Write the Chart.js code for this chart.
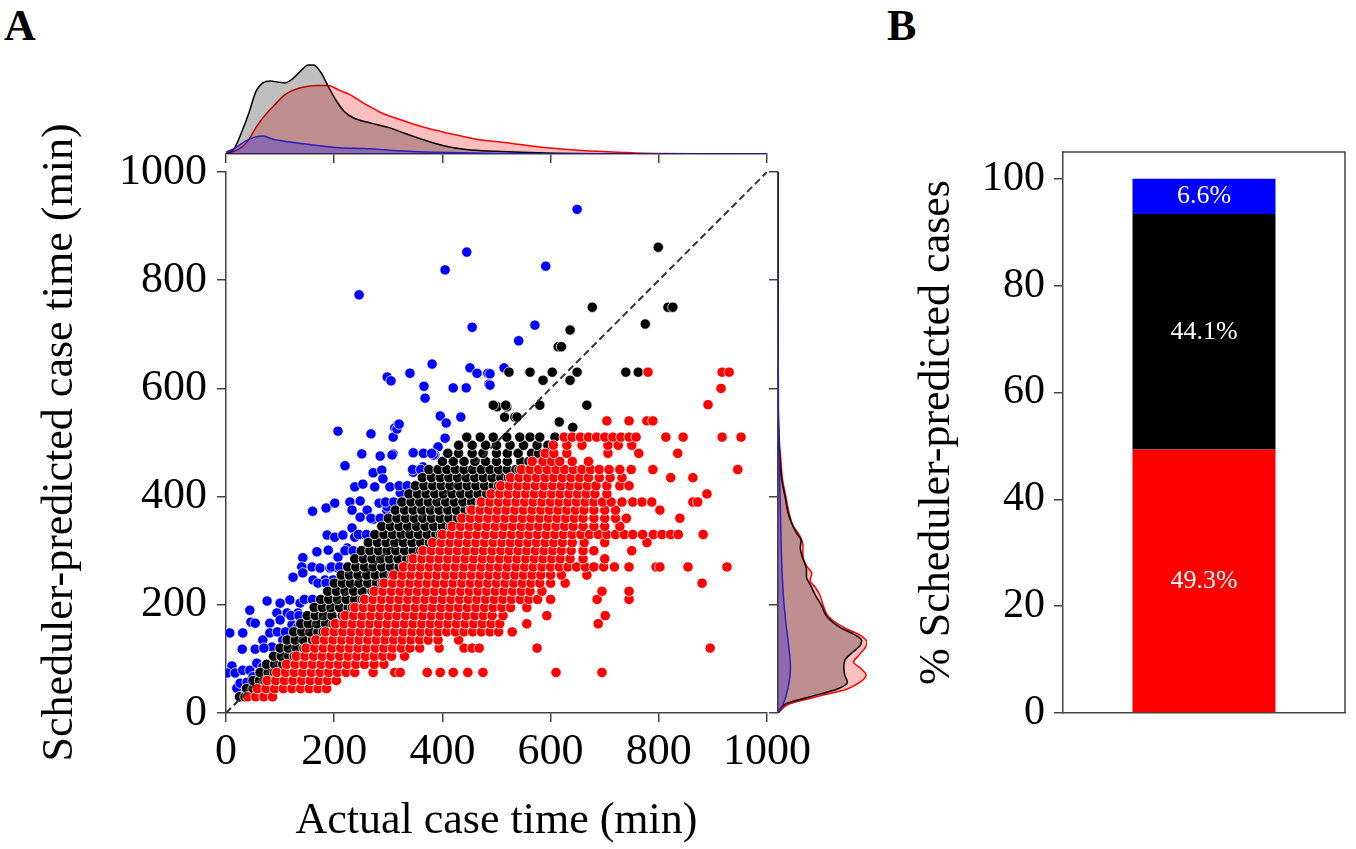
<!DOCTYPE html>
<html>
<head>
<meta charset="utf-8">
<title>Scheduler-predicted vs actual case time</title>
<script src="https://cdn.jsdelivr.net/npm/chart.js@4.4.1/dist/chart.umd.min.js"></script>
<style>
  body { margin: 0; background: #fff; width: 1356px; height: 849px; position: relative; overflow: hidden; font-family: 'Liberation Serif', 'Times New Roman', serif; }
  canvas { position: absolute; }
  .panel { position: absolute; font-weight: bold; font-size: 44px; line-height: 1; }
</style>
</head>
<body>
<div class="panel" style="left:4px;top:4px">A</div>
<div class="panel" style="left:887px;top:4px">B</div>
<canvas id="scatterChart" width="830" height="749" style="left:0;top:100px"></canvas>
<canvas id="topKde" width="830" height="134" style="left:0;top:36px"></canvas>
<canvas id="rightKde" width="130" height="620" style="left:750px;top:146px"></canvas>
<canvas id="barChart" width="476" height="749" style="left:880px;top:100px"></canvas>
<script>
// ---- data ----
// red = under-predicted, black = close, blue = over-predicted
// rows: [scheduler-predicted time, [actual times...]]
const redRows = [
  [30, [40, 55, 70, 86]],
  [45, [58, 74, 90, 106, 122, 138, 154, 170, 186]],
  [60, [76, 92, 108, 124, 140, 156, 172, 188, 204]],
  [75, [94, 110, 126, 142, 158, 174, 190, 206, 222, 238, 272, 312, 322, 372, 396, 420, 447, 475, 610, 695]],
  [90, [112, 128, 144, 160, 176, 192, 208, 224, 240, 256, 274, 292]],
  [105, [130, 146, 162, 178, 194, 210, 226, 242, 258, 274, 290, 306, 330]],
  [120, [148, 164, 180, 196, 212, 228, 244, 260, 276, 292, 308, 324, 340, 358, 394, 440, 455, 468, 575, 895]],
  [135, [166, 182, 198, 214, 230, 246, 262, 278, 294, 310, 326, 342, 358, 374, 392, 430]],
  [150, [184, 200, 216, 232, 248, 264, 280, 296, 312, 328, 344, 360, 376, 392, 408, 424, 440, 456, 472, 488, 504, 529]],
  [165, [202, 218, 234, 250, 266, 282, 298, 314, 330, 346, 362, 378, 394, 410, 426, 442, 458, 474, 490, 506, 556, 688]],
  [180, [220, 236, 252, 268, 284, 300, 316, 332, 348, 364, 380, 396, 412, 428, 444, 460, 476, 492, 512, 593, 701]],
  [195, [238, 254, 270, 286, 302, 318, 334, 350, 366, 382, 398, 414, 430, 446, 462, 478, 494, 510, 526, 556]],
  [210, [256, 272, 288, 304, 320, 336, 352, 368, 384, 400, 416, 432, 448, 464, 480, 496, 512, 528, 544, 560, 576, 600, 686, 745]],
  [225, [274, 290, 306, 322, 338, 354, 370, 386, 402, 418, 434, 450, 466, 482, 498, 514, 530, 546, 562, 584, 695, 745]],
  [240, [292, 308, 324, 340, 356, 372, 388, 404, 420, 436, 452, 468, 484, 500, 516, 532, 548, 564, 580, 600, 627, 880]],
  [255, [310, 326, 342, 358, 374, 390, 406, 422, 438, 454, 470, 486, 502, 518, 534, 550, 566, 582, 600, 620, 667]],
  [270, [328, 344, 360, 376, 392, 408, 424, 440, 456, 472, 488, 504, 520, 536, 552, 568, 584, 600, 616, 632, 648, 664, 680, 698, 718, 745, 795, 802, 854, 926]],
  [285, [346, 362, 378, 394, 410, 426, 442, 458, 474, 490, 506, 522, 538, 554, 570, 586, 602, 618, 636, 660, 700]],
  [300, [364, 380, 396, 412, 428, 444, 460, 476, 492, 508, 524, 540, 556, 572, 588, 604, 620, 638, 660, 680, 750]],
  [315, [382, 398, 414, 430, 446, 462, 478, 494, 510, 526, 542, 558, 574, 590, 606, 622, 640, 662, 700, 778]],
  [330, [400, 416, 432, 448, 464, 480, 496, 512, 528, 544, 560, 576, 592, 608, 624, 640, 656, 672, 688, 704, 720, 736, 752, 770, 790, 806, 822, 836, 882]],
  [345, [418, 434, 450, 466, 482, 498, 514, 530, 546, 562, 578, 594, 610, 626, 642, 660, 680, 700, 728]],
  [360, [436, 452, 468, 484, 500, 516, 532, 548, 564, 580, 596, 612, 628, 644, 660, 680, 700, 720, 740, 839]],
  [375, [454, 470, 486, 502, 518, 534, 550, 566, 582, 598, 614, 630, 646, 662, 680, 700, 720, 802]],
  [390, [472, 488, 504, 520, 536, 552, 568, 584, 600, 616, 632, 648, 664, 680, 696, 712, 732, 752, 769, 787, 863, 872]],
  [405, [490, 506, 522, 538, 554, 570, 586, 602, 618, 634, 650, 666, 682, 704, 889]],
  [420, [508, 524, 540, 556, 572, 588, 604, 620, 636, 652, 668, 684, 704, 728, 745]],
  [435, [526, 542, 558, 574, 590, 606, 622, 638, 654, 670, 690, 710, 732, 822, 863]],
  [450, [546, 562, 578, 594, 610, 626, 642, 658, 674, 690, 708, 728, 749, 789, 946]],
  [465, [566, 586, 602, 617, 640, 670]],
  [480, [590, 606, 630, 706, 763, 835]],
  [495, [605, 630, 658, 706, 725, 750]],
  [510, [625, 640, 655, 670, 685, 700, 715, 730, 745, 758, 813, 845, 917, 952]],
  [540, [704, 745, 778, 789]],
  [570, [891]],
  [600, [915]],
  [630, [780, 917, 930]]
];

const blackRows = [
  [30, [25, 35]],
  [45, [38, 50]],
  [60, [50, 62, 72]],
  [75, [63, 78, 90]],
  [90, [75, 90, 105]],
  [105, [88, 102, 116, 126]],
  [120, [100, 115, 130, 144]],
  [135, [113, 128, 143, 160]],
  [150, [125, 140, 155, 170, 180]],
  [165, [138, 152, 168, 184, 198]],
  [180, [150, 165, 180, 196, 215]],
  [195, [163, 178, 194, 210, 226, 234]],
  [210, [175, 190, 206, 222, 238, 252]],
  [225, [188, 204, 220, 236, 252, 270]],
  [240, [200, 215, 230, 246, 262, 278, 289]],
  [255, [213, 228, 244, 260, 276, 292, 307]],
  [270, [225, 240, 256, 272, 288, 304, 320]],
  [285, [238, 254, 270, 286, 302, 318, 334, 343]],
  [300, [250, 266, 282, 298, 314, 330, 346, 360]],
  [315, [263, 280, 296, 312, 328, 344, 360, 376]],
  [330, [275, 292, 308, 324, 340, 356, 372, 388, 397]],
  [345, [288, 304, 320, 336, 352, 368, 384, 400, 415]],
  [360, [300, 316, 332, 348, 364, 380, 396, 412, 428]],
  [375, [313, 330, 346, 362, 378, 394, 410, 426, 442, 452]],
  [390, [325, 342, 358, 374, 390, 406, 422, 438, 454, 470]],
  [405, [338, 354, 370, 386, 402, 418, 434, 450, 466, 482]],
  [420, [350, 366, 382, 398, 414, 430, 446, 462, 478, 494, 504]],
  [435, [363, 380, 396, 412, 428, 444, 460, 476, 492, 508, 522]],
  [450, [375, 392, 408, 424, 440, 456, 472, 488, 504, 520, 536, 542]],
  [465, [400, 420, 440, 460, 480, 500, 520, 545, 560]],
  [480, [410, 430, 455, 475, 500, 520, 540, 565, 578]],
  [495, [430, 455, 480, 500, 525, 550, 575, 595]],
  [510, [445, 470, 494, 519, 543, 562, 580, 608]],
  [528, [641]],
  [538, [616]],
  [547, [515, 534, 538]],
  [566, [501, 519]],
  [569, [494, 517, 580, 667]],
  [615, [586, 636]],
  [630, [523, 562, 603, 649, 739, 762]],
  [677, [614, 620]],
  [708, [636]],
  [719, [775]],
  [750, [677, 817, 826]],
  [861, [799]]
];

// blue points as [actual, predicted]
const bluePts = [
  [445, 852], [405, 819], [246, 773], [455, 713], [649, 931], [591, 826], [571, 717], [541, 688],
  [381, 645], [340, 628], [298, 621], [305, 614], [366, 604], [368, 582], [420, 601], [444, 601],
  [451, 638], [464, 628], [484, 628], [486, 608], [514, 638], [488, 627], [488, 606],
  [396, 549], [407, 536], [434, 547], [318, 534], [312, 527], [309, 510], [207, 521], [268, 516],
  [316, 525], [320, 534], [405, 508], [392, 492], [386, 477], [346, 481],
  [251, 479], [285, 475], [309, 479], [383, 477], [307, 477], [220, 457], [272, 444], [288, 449],
  [346, 445], [364, 455], [238, 418], [253, 423], [275, 418], [290, 433], [303, 418], [334, 418],
  [344, 407], [327, 401], [322, 407], [160, 373], [185, 379], [201, 388], [229, 390], [248, 392],
  [233, 375], [261, 375], [283, 388], [297, 375], [298, 381], [316, 388], [248, 362], [272, 358],
  [187, 329], [201, 325], [216, 329], [233, 342], [238, 325], [257, 329],
  [168, 298], [189, 301], [207, 288], [224, 305], [238, 296], [257, 301],
  [142, 287], [159, 270], [140, 270], [174, 268], [192, 268], [207, 268],
  [124, 251], [142, 259], [161, 246], [183, 246], [198, 246],
  [76, 207], [118, 209], [137, 203], [100, 203], [113, 185], [133, 185], [94, 185],
  [44, 190], [46, 168], [54, 166], [81, 166], [100, 172], [122, 163], [133, 159],
  [7, 148], [31, 148], [30, 118], [54, 118], [68, 135], [81, 148], [85, 122], [105, 135], [113, 120],
  [11, 87], [2, 74], [17, 74], [31, 79], [44, 79], [57, 92], [68, 85],
  [20, 46], [26, 55], [39, 57], [50, 67],
  [70, 120], [95, 150], [110, 150], [120, 180], [135, 180], [145, 210], [160, 210], [170, 240],
  [185, 240], [195, 270], [210, 270], [220, 300], [235, 300], [245, 330], [260, 330], [268, 360],
  [285, 360], [295, 390], [310, 390], [320, 420], [335, 420], [345, 450], [360, 450], [365, 480], [380, 480]
];

// marginal densities, top: [actual time, density]
const topRedKde = [[0, 0], [15, 0.03], [28, 0.07], [42, 0.16], [55, 0.29], [68, 0.40], [89, 0.54], [109, 0.66], [129, 0.72], [149, 0.75], [169, 0.76], [189, 0.76], [209, 0.71], [229, 0.66], [256, 0.56], [283, 0.47], [323, 0.38], [364, 0.30], [404, 0.24], [458, 0.17], [525, 0.12], [592, 0.07], [659, 0.04], [726, 0.02], [792, 0.005], [1000, 0]];
const topBlackKde = [[0, 0], [15, 0.06], [28, 0.23], [42, 0.45], [55, 0.69], [68, 0.79], [82, 0.81], [95, 0.80], [109, 0.79], [122, 0.83], [136, 0.91], [152, 0.99], [162, 0.99], [176, 0.90], [189, 0.75], [203, 0.60], [219, 0.47], [236, 0.40], [270, 0.34], [303, 0.29], [330, 0.23], [364, 0.16], [404, 0.09], [444, 0.05], [498, 0.03], [592, 0.01], [726, 0.003], [1000, 0]];
const topBlueKde = [[0, 0.02], [15, 0.06], [35, 0.14], [55, 0.19], [68, 0.20], [89, 0.16], [122, 0.13], [162, 0.10], [209, 0.07], [256, 0.06], [309, 0.04], [389, 0.02], [458, 0.01], [600, 0], [1000, 0]];

// marginal densities, right: [predicted time, density]
const rightRedKde = [[0, 0], [17, 0.13], [30, 0.43], [44, 0.77], [57, 0.92], [70, 0.99], [84, 0.92], [94, 0.85], [107, 0.91], [121, 0.98], [131, 1.0], [144, 0.92], [158, 0.74], [178, 0.57], [198, 0.51], [218, 0.47], [232, 0.42], [245, 0.36], [258, 0.38], [272, 0.32], [292, 0.28], [312, 0.28], [326, 0.25], [346, 0.17], [366, 0.13], [399, 0.09], [433, 0.05], [473, 0.03], [513, 0.01], [600, 0], [1000, 0]];
const rightBlackKde = [[0, 0], [17, 0.09], [30, 0.36], [44, 0.66], [57, 0.78], [70, 0.75], [84, 0.74], [97, 0.75], [111, 0.83], [124, 0.92], [134, 0.94], [144, 0.87], [158, 0.70], [178, 0.55], [198, 0.49], [218, 0.42], [238, 0.36], [252, 0.32], [265, 0.32], [285, 0.28], [305, 0.25], [319, 0.26], [332, 0.21], [352, 0.15], [372, 0.11], [399, 0.08], [433, 0.04], [473, 0.02], [513, 0.01], [600, 0], [1000, 0]];
const rightBlueKde = [[0, 0], [17, 0.06], [44, 0.11], [84, 0.14], [124, 0.12], [164, 0.09], [218, 0.06], [285, 0.04], [352, 0.03], [419, 0.02], [486, 0.01], [553, 0.005], [800, 0], [1000, 0]];

// panel B
const barGroups = ['Under-predicted', 'Accurate', 'Over-predicted'];
const barValues = [49.3, 44.1, 6.6];
const barColors = ['#ff0000', '#000000', '#0000ff'];

const SERIF = "'Liberation Serif', 'Times New Roman', serif";
Chart.defaults.font.family = SERIF;
Chart.defaults.color = '#000';

function rowsToPoints(rows) {
    const pts = [];
    rows.forEach(([y, xs]) => xs.forEach(x => pts.push({ x: x, y: y })));
    return pts;
}

// shared look for the matplotlib-like spines
function axisLook(extra) {
    return Object.assign({
        grid: { drawOnChartArea: false, drawTicks: true, tickLength: 9, color: '#444', lineWidth: 1.5 },
        border: { display: true, color: '#444', width: 1.5 }
    }, extra);
}

const plainTick = v => String(v); // no thousands separator

function drawScatter() {
    const pointStyle = (c) => ({ backgroundColor: c, borderColor: '#fff', borderWidth: 0.8, pointRadius: 5.2 });
    new Chart(document.getElementById('scatterChart'), {
        type: 'scatter',
        data: {
            datasets: [
                { data: [{ x: 0, y: 0 }, { x: 1000, y: 1000 }], showLine: true, borderColor: '#333', borderWidth: 2, borderDash: [7, 4], pointRadius: 0, order: 0 },
                Object.assign({ data: rowsToPoints(redRows), order: 1 }, pointStyle('#ff0000')),
                Object.assign({ data: rowsToPoints(blackRows), order: 2 }, pointStyle('#000000')),
                Object.assign({ data: bluePts.map(p => ({ x: p[0], y: p[1] })), order: 3 }, pointStyle('#0000ff'))
            ]
        },
        options: {
            responsive: false, animation: false, events: [],
            layout: { padding: { top: 72, right: 63, left: 0, bottom: 0 } },
            plugins: { legend: { display: false }, tooltip: { enabled: false } },
            scales: {
                x: axisLook({
                    type: 'linear', min: 0, max: 1000,
                    ticks: { stepSize: 200, font: { size: 44 }, padding: 4, maxRotation: 0, callback: plainTick },
                    title: { display: true, text: 'Actual case time (min)', font: { size: 44 }, padding: { top: 0, bottom: 1 } },
                    afterFit: s => { s.height = 136; }
                }),
                y: axisLook({
                    min: 0, max: 1000,
                    ticks: { stepSize: 200, font: { size: 44 }, padding: 10, callback: plainTick },
                    title: { display: true, text: 'Scheduler-predicted case time (min)', font: { size: 44 }, padding: { top: 34, bottom: 0 } },
                    afterFit: s => { s.width = 226; }
                })
            }
        }
    });
}

function kdeSet(pairs, color, fillColor, horizontal) {
    return {
        data: pairs.map(p => horizontal ? { x: p[1], y: p[0] } : { x: p[0], y: p[1] }),
        borderColor: color, backgroundColor: fillColor, borderWidth: 1.5,
        fill: 'origin', pointRadius: 0, tension: 0.4, cubicInterpolationMode: 'monotone'
    };
}

function drawTopKde() {
    new Chart(document.getElementById('topKde'), {
        type: 'line',
        data: {
            datasets: [
                kdeSet(topBlueKde, '#2a1fc0', 'rgba(0,0,255,0.25)', false),
                kdeSet(topBlackKde, '#000', 'rgba(0,0,0,0.25)', false),
                kdeSet(topRedKde, '#ff0000', 'rgba(255,0,0,0.25)', false)
            ]
        },
        options: {
            responsive: false, animation: false, events: [],
            layout: { padding: { top: 28, right: 63, left: 226, bottom: 0 } },
            plugins: { legend: { display: false }, tooltip: { enabled: false } },
            scales: {
                x: axisLook({ type: 'linear', min: 0, max: 1000, ticks: { stepSize: 200, display: false }, afterFit: s => { s.height = 16; } }),
                y: { display: false, min: 0, max: 1.0 }
            }
        }
    });
}

function drawRightKde() {
    new Chart(document.getElementById('rightKde'), {
        type: 'line',
        data: {
            datasets: [
                kdeSet(rightBlueKde, '#2a1fc0', 'rgba(0,0,255,0.25)', true),
                kdeSet(rightBlackKde, '#000', 'rgba(0,0,0,0.25)', true),
                kdeSet(rightRedKde, '#ff0000', 'rgba(255,0,0,0.25)', true)
            ]
        },
        options: {
            indexAxis: 'y',
            responsive: false, animation: false, events: [],
            layout: { padding: { top: 26, right: 13, left: 0, bottom: 53 } },
            plugins: { legend: { display: false }, tooltip: { enabled: false } },
            scales: {
                y: axisLook({ type: 'linear', min: 0, max: 1000, ticks: { stepSize: 200, display: false }, afterFit: s => { s.width = 28; } }),
                x: { type: 'linear', display: false, min: 0, max: 1.0 }
            }
        }
    });
}

// white % labels inside each stacked segment
const barLabelPlugin = {
    id: 'barLabels',
    afterDatasetsDraw(chart) {
        const ctx = chart.ctx;
        ctx.save();
        ctx.fillStyle = '#fff';
        ctx.font = '26px ' + SERIF;
        ctx.textAlign = 'center';
        ctx.textBaseline = 'middle';
        chart.data.datasets.forEach((ds, i) => {
            const bar = chart.getDatasetMeta(i).data[0];
            ctx.fillText(ds.data[0].toFixed(1) + '%', bar.x, (bar.y + bar.base) / 2);
        });
        ctx.restore();
    }
};

// top and right spines of panel B
const framePlugin = {
    id: 'frame',
    afterDraw(chart) {
        const { ctx, chartArea: a } = chart;
        ctx.save();
        ctx.strokeStyle = '#444';
        ctx.lineWidth = 1.5;
        ctx.beginPath();
        ctx.moveTo(a.left, a.top);
        ctx.lineTo(a.right, a.top);
        ctx.lineTo(a.right, a.bottom);
        ctx.stroke();
        ctx.restore();
    }
};

function drawBar() {
    new Chart(document.getElementById('barChart'), {
        type: 'bar',
        data: {
            labels: [''],
            datasets: barValues.map((v, i) => ({
                label: barGroups[i], data: [v], backgroundColor: barColors[i], borderWidth: 0,
                barPercentage: 0.507, categoryPercentage: 1.0
            }))
        },
        options: {
            responsive: false, animation: false, events: [],
            layout: { padding: { top: 52, right: 11, left: 0, bottom: 0 } },
            plugins: { legend: { display: false }, tooltip: { enabled: false } },
            scales: {
                x: {
                    stacked: true, ticks: { display: false }, grid: { display: false },
                    border: { display: true, color: '#444', width: 1.5 },
                    afterFit: s => { s.height = 136; }
                },
                y: axisLook({
                    stacked: true, min: 0, max: 105,
                    ticks: { stepSize: 20, includeBounds: false, font: { size: 42 }, padding: 9 },
                    title: { display: true, text: '% Scheduler-predicted cases', font: { size: 44 }, padding: { top: 31, bottom: 0 } },
                    afterFit: s => { s.width = 183; }
                })
            }
        },
        plugins: [barLabelPlugin, framePlugin]
    });
}

drawScatter();
drawTopKde();
drawRightKde();
drawBar();
</script>
</body>
</html>
